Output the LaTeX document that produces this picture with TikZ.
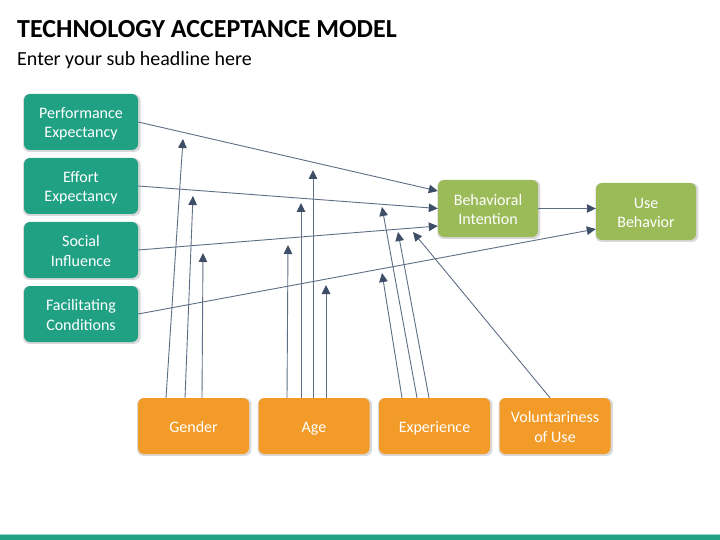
\documentclass[tikz,border=0pt]{standalone}
\usepackage{fontspec}
\setmainfont{Carlito}
\usetikzlibrary{arrows.meta,calc,shadows}
\definecolor{tealbox}{HTML}{21A184}
\definecolor{greenbox}{HTML}{9BBB59}
\definecolor{orangebox}{HTML}{F29B28}
\definecolor{linec}{HTML}{5E6E84}
\definecolor{arrowc}{HTML}{3D4E66}
\definecolor{barc}{HTML}{21A184}
\newcommand\topst{\rule{0pt}{17pt}}
\newcommand\botst{\rule[-4.2pt]{0pt}{4.2pt}}
\begin{document}
\begin{tikzpicture}[x=1pt,y=-1pt,
  box/.style={rectangle, rounded corners=6pt, text=white, align=center,
    font=\fontsize{16}{19.2}\selectfont, inner sep=2pt,
    general shadow={fill=black, opacity=0.15, shadow scale=1.03, shadow xshift=0.8pt, shadow yshift=-1pt}},
  gbox/.style={box, fill=tealbox, minimum width=114pt, minimum height=56pt},
  lbox/.style={box, fill=greenbox, minimum width=100pt, minimum height=57pt},
  obox/.style={box, fill=orangebox, minimum width=111pt, minimum height=56pt},
  conn/.style={draw=linec, line width=0.9pt, -{Triangle[length=9pt,width=8.5pt,color=arrowc]}}]
\useasboundingbox (0,0) rectangle (720,540);
\fill[white] (0,0) rectangle (720,540);
% titles
\node[anchor=base west, inner sep=0pt, font=\fontsize{26}{30}\selectfont\bfseries] (title) at (17,38) {TECHNOLOGY ACCEPTANCE MODEL};
\node[anchor=base west, inner sep=0pt, font=\fontsize{20}{24}\selectfont] (subtitle) at (17,66) {Enter your sub headline here};
% left boxes
\node[gbox] (perf) at (81,122) {\topst Performance\\Expectancy\botst};
\node[gbox] (effort) at (81,186) {\topst Effort\\Expectancy\botst};
\node[gbox] (social) at (81,250) {\topst Social\\Influence\botst};
\node[gbox] (facil) at (81,314) {\topst Facilitating\\Conditions\botst};
% right boxes
\node[lbox] (bi) at (488,208.5) {\topst Behavioral\\Intention\botst};
\node[lbox] (ub) at (646,211.5) {\topst Use\\Behavior\botst};
% bottom boxes
\node[obox] (gender) at (193.5,426) {\topst Gender\botst};
\node[obox] (age) at (314,426) {\topst Age\botst};
\node[obox] (exp) at (434.5,426) {\topst Experience\botst};
\node[obox] (vol) at (555,426) {\topst Voluntariness\\of Use\botst};
% main connectors
\draw[conn] (perf.east) -- ($(bi.west)+(0,-17.5)$);
\draw[conn] (effort.east) -- (bi.west);
\draw[conn] (social.east) -- ($(bi.west)+(0,17.5)$);
\draw[conn] (facil.east) -- ($(ub.west)+(0,17.5)$);
\draw[conn] (bi.east) -- (bi.east -| ub.west);
% moderator tips
\coordinate (g1) at (183,139);
\coordinate (g2) at (193,196);
\coordinate (g3) at (203,253);
\coordinate (a1) at (288,245);
\coordinate (a2) at (301,203);
\coordinate (a3) at (313,170);
\coordinate (a4) at (326,285);
\coordinate (e1) at (382,273);
\coordinate (e2) at (382,207);
\coordinate (e3) at (398,232);
\coordinate (v1) at (413,232);
% moderator connectors
\draw[conn] ($(gender.north)+(-27.5,0)$) -- (g1);
\draw[conn] ($(gender.north)+(-8.5,0)$) -- (g2);
\draw[conn] ($(gender.north)+(8.5,0)$) -- (g3);
\draw[conn] ($(age.north)+(-27,0)$) -- (a1);
\draw[conn] ($(age.north)+(-13,0)$) -- (a2);
\draw[conn] ($(age.north)+(-1,0)$) -- (a3);
\draw[conn] ($(age.north)+(12,0)$) -- (a4);
\draw[conn] ($(exp.north)+(-32.5,0)$) -- (e1);
\draw[conn] ($(exp.north)+(-17.5,0)$) -- (e2);
\draw[conn] ($(exp.north)+(-5.5,0)$) -- (e3);
\draw[conn] ($(vol.north)+(-5,0)$) -- (v1);
% bottom bar
\fill[barc!45] (0,533.5) rectangle (720,535);
\fill[barc] (0,535) rectangle (720,540);
\end{tikzpicture}
\end{document}
